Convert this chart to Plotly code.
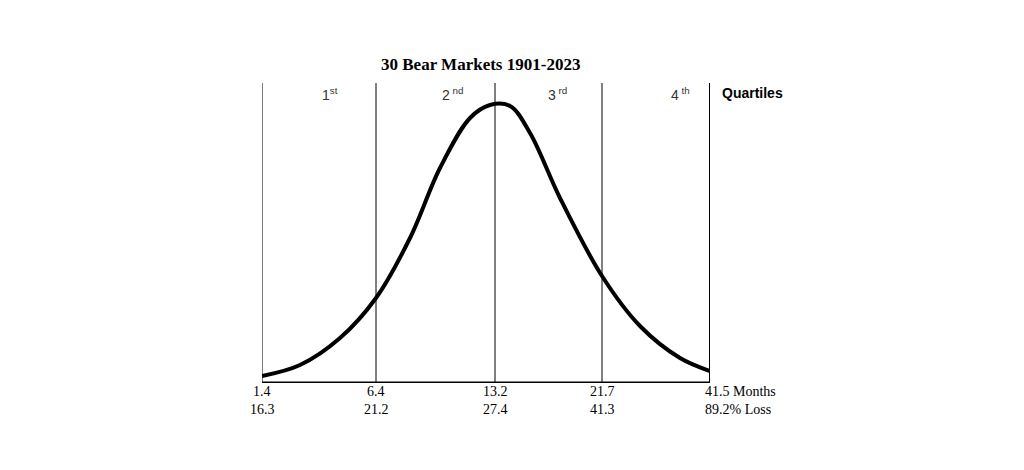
import plotly.graph_objects as go

# quartile boundaries (horizontal position units) and their labels
bounds = [0, 114, 233, 340, 448]
months = ["1.4", "6.4", "13.2", "21.7", "41.5 Months"]
losses = ["16.3", "21.2", "27.4", "41.3", "89.2% Loss"]
quartiles = ["1<sup>st</sup>", "2<sup> nd</sup>", "3<sup> rd</sup>", "4<sup> th</sup>"]
quartile_x = [68, 190, 295, 418]

# bell curve
curve_x = [0, 38, 78, 114, 148, 178, 208, 228, 248, 268, 298, 340, 378, 418, 448]
curve_y = [7, 18, 45, 85, 145, 215, 265, 278, 277, 250, 185, 107, 57, 25, 12]

fig = go.Figure()
for i, b in enumerate(bounds):
    fig.add_trace(go.Scatter(x=[b, b], y=[0, 300], mode="lines",
                             line=dict(color="black", width=2 if i == 4 else 1),
                             hoverinfo="none", cliponaxis=False))
fig.add_trace(go.Scatter(x=[0, 448], y=[0, 0], mode="lines",
                         line=dict(color="black", width=3), hoverinfo="none",
                         cliponaxis=False))
fig.add_trace(go.Scatter(x=curve_x, y=curve_y, mode="lines",
                         line=dict(color="black", width=4, shape="spline"),
                         hoverinfo="none"))

serif = dict(family="Liberation Serif", size=14, color="black")
for b, m, l in zip(bounds, months, losses):
    last = m.endswith("Months")
    fig.add_annotation(x=b - (7 if last else 0), y=-0.06, xref="x", yref="paper",
                       text=m, showarrow=False, font=serif,
                       xanchor="left" if last else "center")
    fig.add_annotation(x=b - (7 if last else 0), y=-0.12, xref="x", yref="paper",
                       text=l, showarrow=False, font=serif,
                       xanchor="left" if last else "center")
for qx, q in zip(quartile_x, quartiles):
    fig.add_annotation(x=qx, y=1.0, xref="x", yref="paper", text=q, showarrow=False,
                       font=dict(family="Liberation Sans", size=14, color="#333"))
fig.add_annotation(x=458 / 448, y=1.0, xref="paper", yref="paper", text="<b>Quartiles</b>",
                   showarrow=False, xanchor="left",
                   font=dict(family="Liberation Sans", size=14, color="black"))
fig.add_annotation(x=218, y=1.1, xref="x", yref="paper", text="<b>30 Bear Markets 1901-2023</b>",
                   showarrow=False, font=dict(family="Liberation Serif", size=17, color="black"))

fig.update_layout(
    width=1024, height=470, showlegend=False,
    paper_bgcolor="white", plot_bgcolor="white",
    margin=dict(l=254, r=322, t=75, b=95),
    xaxis=dict(range=[0, 448], visible=False),
    yaxis=dict(range=[0, 300], visible=False),
)
fig.write_html("out.html")
